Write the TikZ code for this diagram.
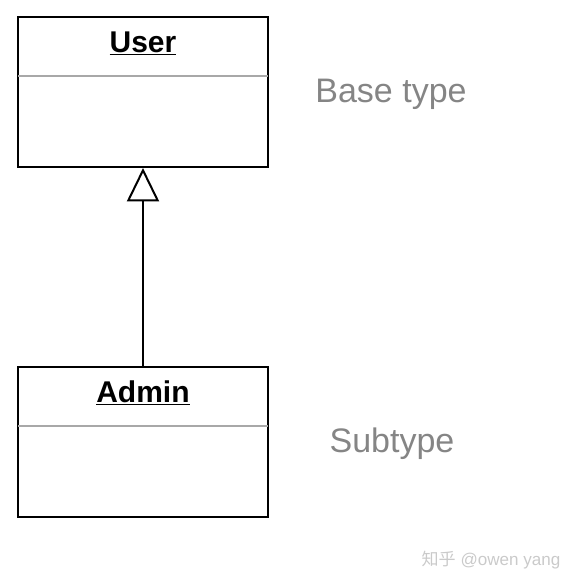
\documentclass[tikz,border=0pt]{standalone}
\usepackage{fontspec}
\setmainfont{Liberation Sans}
\newfontfamily\cjkfont{Noto Sans CJK SC}
\usetikzlibrary{arrows.meta,calc}
\definecolor{labelgray}{HTML}{858585}
\definecolor{sepgray}{HTML}{A8A8A8}
\definecolor{markgray}{HTML}{CACACA}

\begin{document}
\begin{tikzpicture}[x=.75pt,y=-.75pt,
    classbox/.style={draw=black,line width=1.5pt,minimum width=187.5pt,minimum height=112.5pt,inner sep=0pt},
    classname/.style={font=\fontsize{22.5}{26}\selectfont\bfseries,inner sep=0pt},
    typelabel/.style={font=\fontsize{25.5}{30}\selectfont,text=labelgray,inner sep=0pt,anchor=base}]
      \useasboundingbox (0,0) rectangle (578,586);
      \foreach \y/\name/\text in {92/user/User, 442/admin/Admin}{%
          \node[classbox] (\name) at (143,\y) {};
          \node[classname,anchor=base] (\name name) at ($(\name.north)+(0,36)$) {\underline{\text}};
          \draw[sepgray,line width=1.5pt] ($(\name.north west)+(1,60)$) -- ($(\name.north east)+(-1,60)$);
      }
      \draw[line width=1.5pt,-{Triangle[open,length=25pt,width=24pt,line width=1.5pt]}] (admin.north) -- (user.south);
      \node[typelabel] (base) at (391,102) {Base type};
      \node[typelabel] (sub) at (392,452) {Subtype};
      \node[text=markgray,font=\fontsize{12.8}{15}\selectfont,inner sep=0pt] (mark) at (491,560) {{\cjkfont 知乎} @owen yang};
    \end{tikzpicture}
\end{document}
